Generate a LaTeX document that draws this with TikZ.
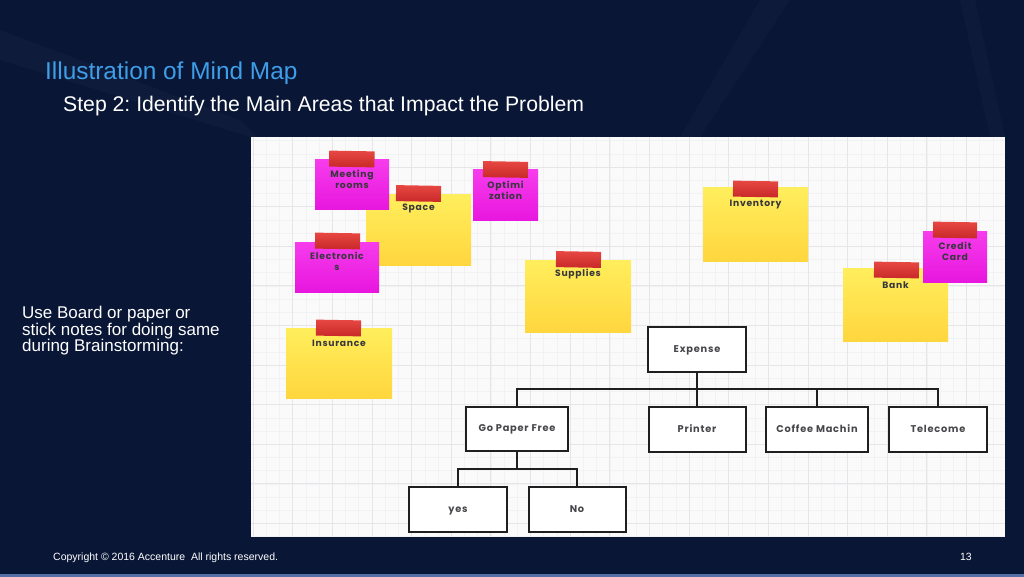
\documentclass[tikz,border=0pt]{standalone}
\usepackage{fontspec}
\setmainfont{Liberation Sans}
\newfontfamily\notefamily[LetterSpace=8]{Poppins}
\frenchspacing
\definecolor{bgnavy}{RGB}{9,22,54}
\definecolor{bgband}{RGB}{85,110,165}
\definecolor{titleblue}{RGB}{62,158,232}
\definecolor{boardbg}{RGB}{250,250,251}
\definecolor{gridmajor}{RGB}{230,230,233}
\definecolor{gridminor}{RGB}{242,242,244}
\definecolor{yelTop}{RGB}{255,238,92}
\definecolor{yelBot}{RGB}{255,214,62}
\definecolor{magTop}{RGB}{246,60,236}
\definecolor{magBot}{RGB}{232,22,222}
\definecolor{tapeTop}{RGB}{232,72,66}
\definecolor{tapeBot}{RGB}{200,40,40}
\definecolor{inkgray}{RGB}{55,55,60}
\definecolor{treeink}{RGB}{70,70,75}
\tikzset{
  ynote/.style={rectangle, inner sep=0pt, top color=yelTop, bottom color=yelBot},
  mnote/.style={rectangle, inner sep=0pt, top color=magTop, bottom color=magBot},
  tape/.style={rectangle, inner sep=0pt, minimum width=45pt, minimum height=16pt, top color=tapeTop, bottom color=tapeBot},
  notetxt/.style={inner sep=0pt, align=center, text=inkgray, font=\notefamily\bfseries\fontsize{9.2}{10.8}\selectfont},
  treebox/.style={rectangle, draw=black!88, line width=2pt, fill=white, inner sep=0pt, minimum height=45pt, text=treeink, text height=7pt, text depth=2pt, font=\notefamily\bfseries\fontsize{9.8}{11}\selectfont},
  treeline/.style={draw=black!88, line width=2pt},
  minorgrid/.style={draw=gridminor, line width=0.5pt},
  majorgrid/.style={draw=gridmajor, line width=0.8pt},
}
\begin{document}
\begin{tikzpicture}[x=1pt,y=-1pt]
\useasboundingbox (0,0) rectangle (1024,577);
% slide background
\fill[bgnavy] (0,0) rectangle (1024,577);
\fill[white, opacity=0.025] (0,30) -- (0,60) -- (260,140) -- (240,120) -- cycle;
\fill[white, opacity=0.02] (760,0) -- (790,0) -- (700,137) -- (680,137) -- cycle;
\fill[white, opacity=0.02] (960,0) -- (975,0) -- (1005,137) -- (990,137) -- cycle;
\fill[bgband] (0,574) rectangle (1024,577);
% texts
\node[anchor=base west, inner sep=0pt, text=titleblue, font=\fontsize{24.4}{28}\selectfont] (title) at (45,80) {Illustration of Mind Map};
\node[anchor=base west, inner sep=0pt, text=white, font=\fontsize{21.2}{25}\selectfont] (step) at (63,112) {Step 2: Identify the Main Areas that Impact the Problem};
\node[anchor=west, inner sep=0pt, align=left, text=white, font=\fontsize{17}{16.5}\selectfont] (body) at (22,331) {Use Board or paper or\\stick notes for doing same\\during Brainstorming:};
\node[anchor=base west, inner sep=0pt, text=white, font=\fontsize{10.5}{12}\selectfont] (copy) at (53,560) {Copyright \textcopyright{} 2016 Accenture\ \ All rights reserved.};
\node[anchor=base east, inner sep=0pt, text=white, font=\fontsize{10.5}{12}\selectfont] (page) at (972,560) {13};
% board
\fill[boardbg] (251,137) rectangle (1005,536);
\begin{scope}
\clip (251,137) rectangle (1005,536);
\foreach \i in {-1,...,58} {\draw[minorgrid] ({253+\i*13.213},137) -- ({253+\i*13.213},536);}
\foreach \j in {-1,...,32} {\draw[minorgrid] (251,{127.4+\j*13.2}) -- (1005,{127.4+\j*13.2});}
\foreach \i in {0,...,19} {\draw[majorgrid] ({253+\i*39.64},137) -- ({253+\i*39.64},536);}
\foreach \j in {0,...,11} {\draw[majorgrid] (251,{127.4+\j*39.6}) -- (1005,{127.4+\j*39.6});}
\end{scope}
% sticky notes
\node[ynote, minimum width=105pt, minimum height=70pt] (space) at (418.5,230) {};
\node[tape, rotate=-1] (spacetape) at (418.5,193.5) {};
\node[notetxt] (spacetxt) at (418.5,208) {Space};
\node[mnote, minimum width=74pt, minimum height=50pt] (meet) at (352,185) {};
\node[tape, rotate=-1] (meettape) at (352,159) {};
\node[notetxt] (meettxt) at (352,179.5) {Meeting\\rooms};
\node[mnote, minimum width=65pt, minimum height=51pt] (opt) at (505.5,195.5) {};
\node[tape, rotate=-1] (opttape) at (505.5,169.5) {};
\node[notetxt] (opttxt) at (505.5,190.5) {Optimi\\zation};
\node[mnote, minimum width=84pt, minimum height=50pt] (elec) at (337,267) {};
\node[tape, rotate=-1] (electape) at (337.5,241) {};
\node[notetxt] (electxt) at (337,261.5) {Electronic\\s};
\node[ynote, minimum width=106pt, minimum height=72pt] (supp) at (578,296) {};
\node[tape, rotate=-1] (supptape) at (578.5,259.5) {};
\node[notetxt] (supptxt) at (578,274) {Supplies};
\node[ynote, minimum width=106pt, minimum height=70pt] (ins) at (339,363) {};
\node[tape, rotate=-1] (instape) at (338.5,328) {};
\node[notetxt] (instxt) at (339,343) {Insurance};
\node[ynote, minimum width=105pt, minimum height=73pt] (inv) at (755.5,224.5) {};
\node[tape, rotate=-1] (invtape) at (755.5,189) {};
\node[notetxt] (invtxt) at (755.5,204) {Inventory};
\node[ynote, minimum width=105pt, minimum height=73pt] (bank) at (895.5,304.5) {};
\node[tape, rotate=-1] (banktape) at (896.5,270) {};
\node[notetxt] (banktxt) at (895.5,285) {Bank};
\node[mnote, minimum width=64pt, minimum height=50pt] (cc) at (955,257) {};
\node[tape, rotate=-1, minimum width=44pt] (cctape) at (955,230) {};
\node[notetxt] (cctxt) at (955,251) {Credit\\Card};
% tree
\node[treebox, minimum width=98pt] (exp) at (697,349.5) {Expense};
\node[treebox, minimum width=102pt, minimum height=44pt] (gpf) at (517,429) {Go Paper Free};
\node[treebox, minimum width=97pt] (prn) at (697,429.5) {Printer};
\node[treebox, minimum width=102pt] (cof) at (817,429.5) {Coffee Machin};
\node[treebox, minimum width=98pt] (tel) at (938,429.5) {Telecome};
\node[treebox, minimum width=98pt] (yes) at (458,509.5) {yes};
\node[treebox, minimum width=97pt] (no) at (577,509.5) {No};
\coordinate (bus) at (697,389);
\coordinate (subbus) at (517,469);
\draw[treeline] (exp.south) -- (bus);
\foreach \c in {gpf,prn,cof,tel} {\draw[treeline] (bus) -| (\c.north);}
\draw[treeline] (gpf.south) -- (subbus);
\foreach \c in {yes,no} {\draw[treeline] (subbus) -| (\c.north);}
\end{tikzpicture}
\end{document}
